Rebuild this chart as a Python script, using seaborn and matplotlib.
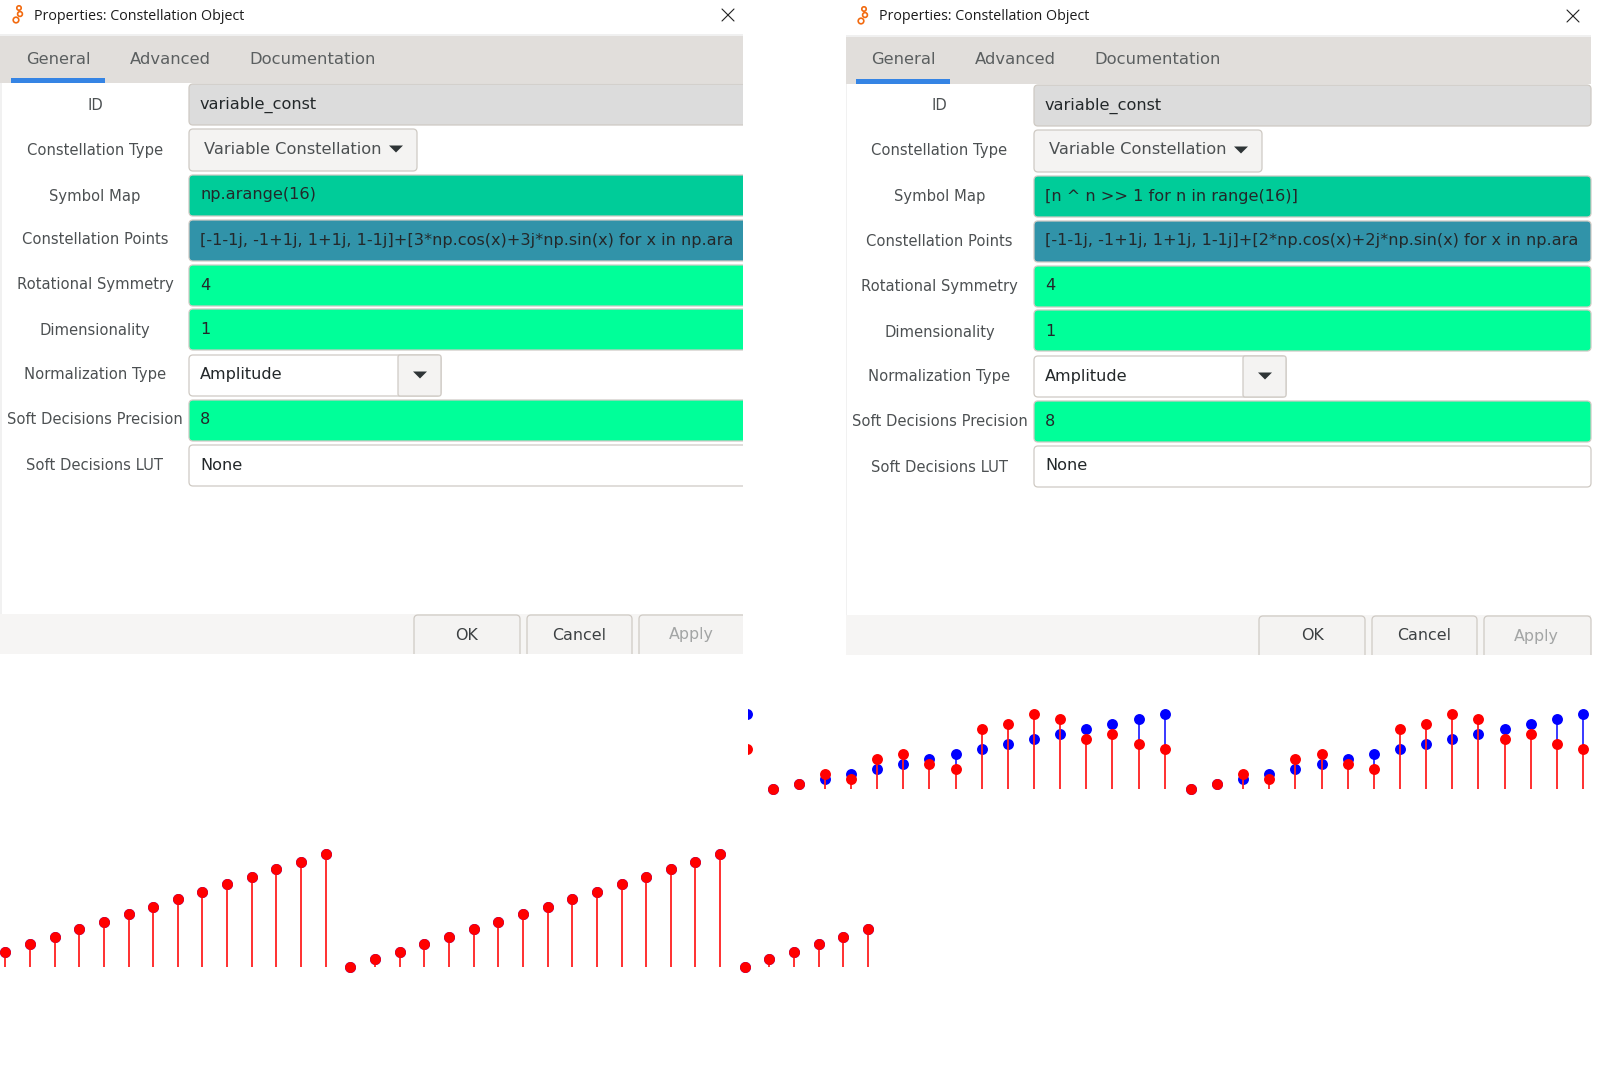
import numpy as np
import pandas as pd
import matplotlib
matplotlib.use("Agg")
import matplotlib.pyplot as plt
from matplotlib.patches import FancyBboxPatch, Rectangle, Polygon, Circle
import seaborn as sns

sns.set_theme(style="white")
plt.rcParams['font.family'] = ['DejaVu Sans']

W, H = 1600, 1076

# dialog text
title = "Properties: Constellation Object"
tabs = ["General", "Advanced", "Documentation"]
field_labels = ["ID", "Constellation Type", "Symbol Map", "Constellation Points", "Rotational Symmetry",
                "Dimensionality", "Normalization Type", "Soft Decisions Precision", "Soft Decisions LUT"]
left_symbol_map = "np.arange(16)"
right_symbol_map = "[n ^ n >> 1 for n in range(16)]"
left_points = "[-1-1j, -1+1j, 1+1j, 1-1j]+[3*np.cos(x)+3j*np.sin(x) for x in np.ara"
right_points = "[-1-1j, -1+1j, 1+1j, 1-1j]+[2*np.cos(x)+2j*np.sin(x) for x in np.ara"
buttons = ["OK", "Cancel", "Apply"]

# bottom left stem plot, blue sits exactly under red
low_n = list(range(2, 38))
low_red = [2, 3, 4, 5, 6, 7, 8, 9, 10, 11, 12, 13, 14, 15,
           0, 1, 2, 3, 4, 5, 6, 7, 8, 9, 10, 11, 12, 13, 14, 15,
           0, 1, 2, 3, 4, 5]
low_blue = list(low_red)

# top right stem plot
high_n = list(range(0, 33))
high_blue = [15,
             0, 1, 2, 3, 4, 5, 6, 7, 8, 9, 10, 11, 12, 13, 14, 15,
             0, 1, 2, 3, 4, 5, 6, 7, 8, 9, 10, 11, 12, 13, 14, 15]
high_red = [8,
            0, 1, 3, 2, 6, 7, 5, 4, 12, 13, 15, 14, 10, 11, 9, 8,
            0, 1, 3, 2, 6, 7, 5, 4, 12, 13, 15, 14, 10, 11, 9, 8]


fig = plt.figure(figsize=(W / 100, H / 100), dpi=100, facecolor='white')
ui = fig.add_axes([0, 0, 1, 1])
ui.set_xlim(0, W)
ui.set_ylim(H, 0)
ui.axis('off')


def box(x0, y0, x1, y1, fc, ec='#cfcac4', rad=4, z=2):
    p = FancyBboxPatch((x0 + rad, y0 + rad), x1 - x0 - 2 * rad, y1 - y0 - 2 * rad,
                       boxstyle=f"round,pad={rad},rounding_size={rad}", fc=fc, ec=ec, lw=0.9, zorder=z)
    ui.add_patch(p)


def rect(x0, y0, x1, y1, fc, z=1):
    ui.add_patch(Rectangle((x0, y0), x1 - x0, y1 - y0, fc=fc, ec='none', zorder=z))


def label(x, y, s, color='#4c5052', ha='center', size=10.65, **kw):
    ui.text(x, y, s, color=color, ha=ha, va='center', fontsize=size, zorder=6, **kw)


def arrow(cx, cy, dx, dy):
    ui.add_patch(Polygon([(cx - 7 + dx, cy - 3.5 + dy), (cx + 7 + dx, cy - 3.5 + dy), (cx + dx, cy + 3.5 + dy)],
                         fc='#2e3436', ec='none', zorder=6))


def dialog(dx, dy, right, clipped, symbol_map, points):
    field_x = 189 + dx
    # window frame
    rect(dx, 34 + dy, right, 36 + dy, '#f0f0f0')
    rect(dx, 36 + dy, right, 83 + dy, '#e1dedb')
    rect(dx, 83 + dy, right, 614 + dy, 'white')
    rect(dx, 83 + dy, dx + 1.5, 614 + dy, '#f1f1f1', z=2)
    rect(dx, 614 + dy, right, 654 + dy, '#f6f5f4')
    rect(11 + dx, 78 + dy, 105 + dx, 83 + dy, '#3584e4', z=3)

    # icon and title
    ink = '#f26a0f'
    for cx, cy, r in [(19, 8, 2.2), (20, 14, 2.4), (16, 20, 2.8)]:
        ui.add_patch(Circle((cx + dx, cy + dy), r, fc='none', ec=ink, lw=1.2, zorder=6))
    label(34 + dx, 16 + dy, title, color='#1c1c1c', ha='left', size=10.25, family='Open Sans')
    cx = 728 if clipped else right - 18
    ui.plot([cx - 6, cx + 6], [9 + dy, 21 + dy], color='#222222', lw=0.8, zorder=6)
    ui.plot([cx - 6, cx + 6], [21 + dy, 9 + dy], color='#222222', lw=0.8, zorder=6)

    # tabs
    for t, x in zip(tabs, [58, 170, 313]):
        label(x + dx, 59 + dy, t, color='#5b5f60', size=11.75)

    # field rows
    end = right + 20 if clipped else right
    rows = [(84, '#dcdcdc'), (175, '#00cc99'), (220, '#3193a9'), (265, '#00ff99'),
            (309, '#00ff99'), (400, '#00ff99'), (445, '#ffffff')]
    for top, color in rows:
        box(field_x, top + dy, end, top + 41 + dy, color)

    # combo boxes
    box(field_x, 129 + dy, 417 + dx, 171 + dy, '#f4f3f2')
    arrow(396, 149, dx, dy)
    box(field_x, 355 + dy, 441 + dx, 396 + dy, '#ffffff')
    box(398 + dx, 355 + dy, 441 + dx, 396 + dy, '#f4f3f2', rad=2)
    arrow(420, 375, dx, dy)

    # buttons
    for (x0, x1), t, col in zip([(414, 520), (527, 632), (639, 746)], buttons, ['#3c4042', '#3c4042', '#a3a5a5']):
        box(x0 + dx, 615 + dy, x1 + dx, 666 + dy, '#f4f3f2')
        label((x0 + x1) / 2 + dx if t != "Apply" else 691 + dx, 635 + dy, t, color=col, size=11.4)
    rect(dx, 654 + dy, right + 20, 680, 'white', z=3)

    # labels and values
    ys = [105, 150, 196, 240, 285, 331, 375, 420, 466]
    for s, y in zip(field_labels, ys):
        label(95 + dx - 0.5 * (dx > 0), y + dy, s)
    values = {105: "variable_const", 195: symbol_map, 240: points, 285: "4", 330: "1",
              375: "Amplitude", 420: "8", 465: "None"}
    for y, s in values.items():
        label(200 + dx, y + dy, s, color='#23282a', ha='left', size=11.6)
    label(204 + dx, 149 + dy, "Variable Constellation", ha='left', size=11.7)


dialog(0, 0, 743, True, left_symbol_map, left_points)
rect(743, 30, 846, 680, 'white', z=4)
dialog(845, 1, 1591, False, right_symbol_map, right_points)


def stems(ax, n, blue, red):
    df = pd.DataFrame({'n': n, 'blue': blue, 'red': red})
    # blue stem only shows above the red one
    ax.vlines(df['n'], np.minimum(df['blue'], df['red']), df['blue'], color='#2a2aff', lw=1.3, zorder=2)
    sns.scatterplot(data=df, x='n', y='blue', color='#0000ff', s=62, linewidth=0, ax=ax, zorder=3, legend=False)
    ax.vlines(df['n'], 0, df['red'], color='#ff2020', lw=1.3, zorder=4)
    sns.scatterplot(data=df, x='n', y='red', color='#ff0000', s=62, linewidth=0, ax=ax, zorder=5, legend=False)
    ax.axis('off')


# bottom left plot, one sample is 24.65 px and one level 7.5 px
ax1 = fig.add_axes([0, (H - 990) / H, 880 / W, 150 / H])
ax1.patch.set_alpha(0)
stems(ax1, low_n, low_blue, low_red)
ax1.set_xlim(1.785, 37.485)
ax1.set_ylim(-3.07, 16.93)

# top right plot, one sample is 26.14 px and one level 5 px
ax2 = fig.add_axes([748 / W, (H - 800) / H, 852 / W, 110 / H])
ax2.patch.set_alpha(0)
stems(ax2, high_n, high_blue, high_red)
ax2.set_xlim(0.057, 32.65)
ax2.set_ylim(-2.14, 19.86)

fig.savefig("out.png", dpi=100)
